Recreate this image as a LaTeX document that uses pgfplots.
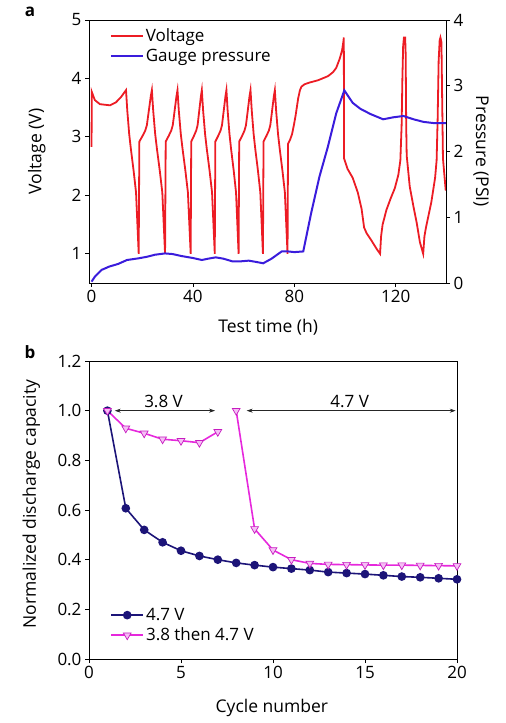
\documentclass[border=0pt]{standalone}
\usepackage{fontspec}
\setmainfont{Open Sans}
\usepackage{pgfplots}
\usepackage{pgfplotstable}
\pgfplotsset{compat=1.18}
\usetikzlibrary{arrows.meta}
\definecolor{vred}{RGB}{236,28,36}
\definecolor{pblue}{RGB}{58,28,220}
\definecolor{navy}{RGB}{28,20,120}
\definecolor{mag}{RGB}{230,40,220}
\definecolor{pinkfill}{RGB}{245,190,245}
\newcommand{\fsz}{\fontsize{17}{20}\selectfont}
\newcommand{\lsz}{\fontsize{17.5}{21}\selectfont}

\pgfplotstableread{
t V
0 2.83
0.1 3.77
1.3 3.63
3.3 3.56
7.3 3.54
9.6 3.59
11.6 3.68
13.6 3.80
14.1 3.45
14.85 3.05
15.5 2.80
16.6 2.42
17.55 2.05
18.6 1.0
18.86 2.92
20.16 3.02
21.2 3.11
21.82 3.20
22.76 3.50
23.38 3.70
23.8 3.80
24.32 3.45
25.1 3.05
25.78 2.80
26.92 2.42
27.91 2.05
29.0 1.0
29.25 2.92
30.47 3.02
31.45 3.11
32.04 3.20
32.92 3.50
33.51 3.70
33.9 3.80
34.42 3.45
35.2 3.05
35.88 2.80
37.02 2.42
38.01 2.05
39.1 1.0
39.32 2.92
40.42 3.02
41.3 3.11
41.83 3.20
42.62 3.50
43.15 3.70
43.5 3.80
44.01 3.45
44.78 3.05
45.44 2.80
46.56 2.42
47.53 2.05
48.6 1.0
48.83 2.92
49.98 3.02
50.9 3.11
51.45 3.20
52.28 3.50
52.83 3.70
53.2 3.80
53.68 3.45
54.4 3.05
55.02 2.80
56.08 2.42
56.99 2.05
58.0 1.0
58.24 2.92
59.41 3.02
60.35 3.11
60.91 3.20
61.76 3.50
62.32 3.70
62.7 3.80
63.19 3.45
63.93 3.05
64.56 2.80
65.64 2.42
66.57 2.05
67.6 1.0
67.84 2.92
69.01 3.02
69.95 3.11
70.51 3.20
71.36 3.50
71.92 3.70
72.3 3.80
72.8 3.45
73.55 3.05
74.2 2.80
75.3 2.42
76.25 2.05
77.3 1.0
77.5 2.88
78.3 2.95
79.1 3.05
79.8 3.20
80.5 3.37
81.5 3.66
82.2 3.80
82.8 3.86
84.0 3.90
86.0 3.93
89.4 3.97
93.3 4.04
95.3 4.11
96.5 4.18
97.9 4.34
98.8 4.48
99.3 4.62
99.5 4.70
99.6 2.63
101.0 2.45
103.0 2.30
105.0 2.05
106.5 1.77
107.5 1.45
108.5 1.35
110.5 1.22
112.5 1.08
113.8 1.0
114.2 1.30
114.8 1.50
116.3 1.75
118.0 1.95
119.6 2.12
121.0 2.35
121.8 2.60
122.3 3.20
122.6 4.00
122.9 4.55
123.2 4.70
123.7 4.70
123.9 4.40
124.1 3.20
124.3 2.68
125.5 2.15
127.0 1.80
128.2 1.54
129.5 1.20
130.8 1.0
131.3 1.30
131.9 1.45
134.0 1.88
135.5 2.30
136.1 2.60
136.5 3.30
136.9 4.30
137.3 4.65
137.6 4.70
138.0 4.62
138.3 3.60
138.6 2.63
139.7 2.08
}\voltage

\pgfplotstableread{
t P
0 0.02
1.4 0.10
4 0.20
7 0.25
10.5 0.29
14 0.35
18.5 0.375
22 0.40
25 0.43
29 0.45
32 0.44
35.5 0.41
40 0.38
43.5 0.35
46 0.37
49 0.39
52 0.37
55.5 0.33
59 0.33
62 0.34
65 0.32
67.7 0.30
71 0.37
75 0.48
77.5 0.48
80 0.47
83.5 0.48
86.6 1.06
89.9 1.62
93.2 2.07
96.5 2.58
99.7 2.93
103 2.74
106 2.65
110 2.57
115 2.49
119 2.52
123 2.54
127 2.49
131 2.45
135.5 2.43
139.7 2.43
}\pressure

\pgfplotstableread{
x y
1 1.0
2 0.607
3 0.52
4 0.47
5 0.436
6 0.415
7 0.40
8 0.387
9 0.378
10 0.37
11 0.364
12 0.358
13 0.35
14 0.346
15 0.342
16 0.337
17 0.332
18 0.329
19 0.325
20 0.321
}\capA

\pgfplotstableread{
x y
1 1.0
2 0.929
3 0.909
4 0.885
5 0.879
6 0.871
7 0.915
nan nan
8 1.0
9 0.524
10 0.439
11 0.40
12 0.385
13 0.381
14 0.380
15 0.379
16 0.378
17 0.378
18 0.377
19 0.376
20 0.375
}\capB

\pgfplotsset{
  every axis/.append style={
    scale only axis,
    tick align=outside,
    major tick length=4pt,
    tick style={black, line width=0.8pt},
    axis line style={line width=0.8pt},
    tick label style={font=\fsz},
    label style={font=\lsz},
    legend style={font=\fsz},
    legend cell align=left,
    /pgf/number format/assume math mode=true,
  },
  legend image code/.code={
    \draw[mark repeat=2,mark phase=2,#1] plot coordinates {(0pt,0pt) (16pt,0pt) (32pt,0pt)};
  },
}

\begin{document}
\begin{tikzpicture}
\useasboundingbox (0,0) rectangle (506pt,-723pt);

% ---------- panel a ----------
\begin{axis}[
  at={(89pt,-283pt)}, anchor=south west,
  width=357pt, height=263pt,
  xmin=-1, xmax=139.8, ymin=0.5, ymax=5,
  xtick={0,40,80,120}, ytick={1,2,3,4,5},
  axis y line*=left, xtick pos=bottom,
  ylabel={Voltage (V)},
  ylabel style={at={(axis description cs:-0.146,0.5)}, anchor=center},
  xlabel={Test time (h)},
  xlabel style={at={(axis description cs:0.502,-0.168)}, anchor=center},
  legend style={at={(axis description cs:0.055,0.978)}, anchor=north west,
    draw=none, fill=none, inner sep=1pt, row sep=1.5pt,
    nodes={inner sep=2pt}},
]
\addplot[vred, line width=1.8pt] table[x=t,y=V] {\voltage};
\addlegendentry{Voltage}
\addlegendimage{draw=pblue, line width=2pt}
\addlegendentry{Gauge pressure}
\end{axis}

\begin{axis}[
  at={(89pt,-283pt)}, anchor=south west,
  width=357pt, height=263pt,
  xmin=-1, xmax=139.8, ymin=0, ymax=4,
  ytick={0,1,2,3,4},
  axis y line*=right, axis x line=none,
  ylabel={Pressure (PSI)},
  ylabel style={at={(axis description cs:1.098,0.5)}, anchor=center, rotate=180},
]
\addplot[pblue, line width=2pt] table[x=t,y=P] {\pressure};
\end{axis}

\node[font=\fsz\bfseries] at (30pt,-12pt) {a};

% ---------- panel b ----------
\begin{axis}[
  at={(89pt,-659pt)}, anchor=south west,
  width=368pt, height=298pt,
  xmin=0, xmax=20, ymin=0, ymax=1.2,
  xtick={0,5,10,15,20}, ytick={0,0.2,0.4,0.6,0.8,1.0,1.2},
  yticklabel style={/pgf/number format/.cd, fixed, fixed zerofill, precision=1},
  xtick pos=bottom, ytick pos=left,
  ylabel={Normalized discharge capacity},
  ylabel style={at={(axis description cs:-0.157,0.52)}, anchor=center},
  xlabel={Cycle number},
  xlabel style={at={(axis description cs:0.497,-0.163)}, anchor=center},
  legend style={at={(axis description cs:0.055,0.045)}, anchor=south west,
    draw=none, fill=none, inner sep=1pt, row sep=2pt,
    nodes={inner sep=2pt}},
  unbounded coords=jump,
]
\addplot[navy, line width=1.6pt, mark=*, mark size=3.5pt,
  mark options={fill=navy, draw=navy}] table[x=x,y=y] {\capA};
\addlegendentry{4.7 V}
\addplot[mag, line width=1.6pt, mark=triangle*, mark size=4.5pt,
  mark options={rotate=180, fill=pinkfill, draw=mag!70!violet, line width=0.7pt}] table[x=x,y=y] {\capB};
\addlegendentry{3.8 then 4.7 V}

\draw[{Stealth[length=6pt,width=4pt]}-{Stealth[length=6pt,width=4pt]}, line width=0.6pt, black!85]
  (axis cs:1.4,1.0) -- (axis cs:6.85,1.0);
\draw[{Stealth[length=6pt,width=4pt]}-{Stealth[length=6pt,width=4pt]}, line width=0.6pt, black!85]
  (axis cs:8.57,1.0) -- (axis cs:19.93,1.0);
\node[font=\fsz, anchor=south, inner sep=1pt] at (axis cs:4.05,1.008) {3.8 V};
\node[font=\fsz, anchor=south, inner sep=1pt] at (axis cs:14.17,1.008) {4.7 V};
\end{axis}

\node[font=\fsz\bfseries] at (30pt,-352pt) {b};
\end{tikzpicture}
\end{document}
